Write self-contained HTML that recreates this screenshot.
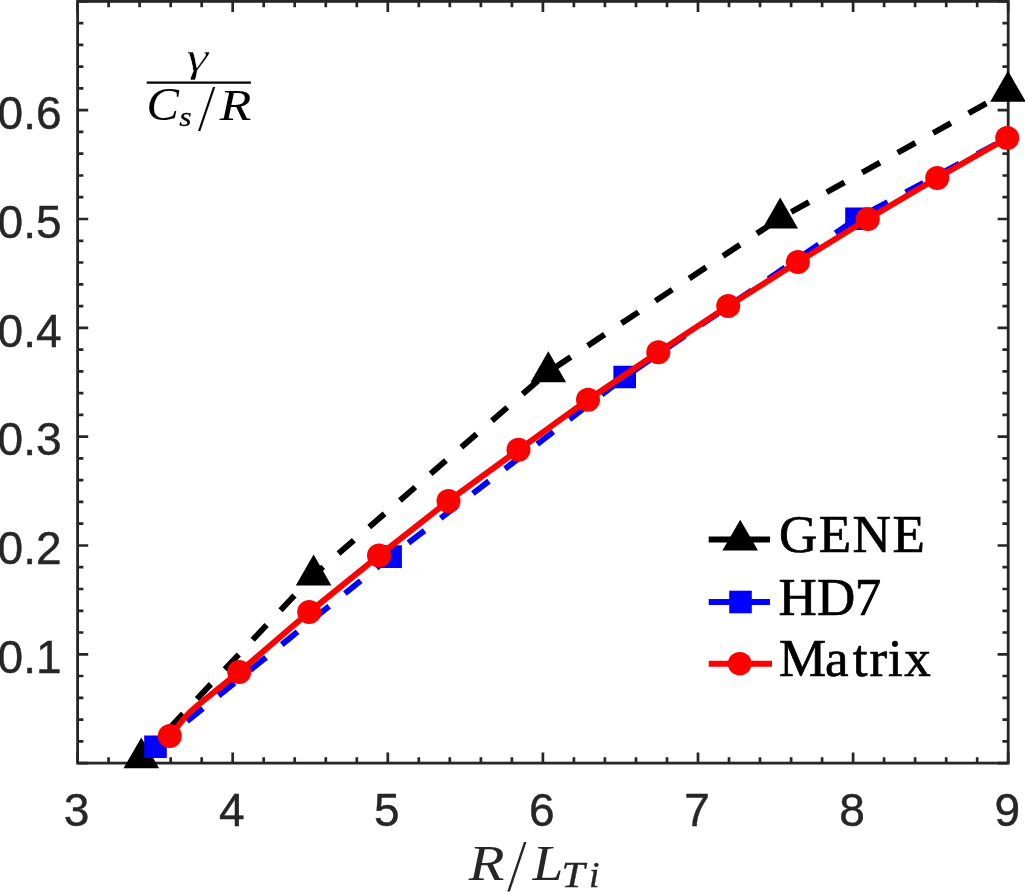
<!DOCTYPE html>
<html><head><meta charset="utf-8"><title>Growth rate</title>
<style>html,body{margin:0;padding:0;background:#fff;}svg{display:block;}
.tk{font-family:"Liberation Sans",sans-serif;font-size:46px;fill:#262626;stroke:#262626;stroke-width:0.45px;}
.rm{font-family:"Liberation Serif",serif;}
.it{font-family:"Liberation Serif",serif;font-style:italic;}
</style></head><body>
<svg width="1025" height="892" viewBox="0 0 1025 892">
<rect width="1025" height="892" fill="#fff"/>
<g stroke="#262626" stroke-width="2.7" fill="none">
<path d="M77.6 763.1v-10.6M77.6 1.4v10.6M108.6 763.1v-5.8M108.6 1.4v5.8M139.6 763.1v-5.8M139.6 1.4v5.8M170.7 763.1v-5.8M170.7 1.4v5.8M201.7 763.1v-5.8M201.7 1.4v5.8M232.7 763.1v-10.6M232.7 1.4v10.6M263.7 763.1v-5.8M263.7 1.4v5.8M294.7 763.1v-5.8M294.7 1.4v5.8M325.8 763.1v-5.8M325.8 1.4v5.8M356.8 763.1v-5.8M356.8 1.4v5.8M387.8 763.1v-10.6M387.8 1.4v10.6M418.8 763.1v-5.8M418.8 1.4v5.8M449.8 763.1v-5.8M449.8 1.4v5.8M480.9 763.1v-5.8M480.9 1.4v5.8M511.9 763.1v-5.8M511.9 1.4v5.8M542.9 763.1v-10.6M542.9 1.4v10.6M573.9 763.1v-5.8M573.9 1.4v5.8M604.9 763.1v-5.8M604.9 1.4v5.8M636.0 763.1v-5.8M636.0 1.4v5.8M667.0 763.1v-5.8M667.0 1.4v5.8M698.0 763.1v-10.6M698.0 1.4v10.6M729.0 763.1v-5.8M729.0 1.4v5.8M760.0 763.1v-5.8M760.0 1.4v5.8M791.1 763.1v-5.8M791.1 1.4v5.8M822.1 763.1v-5.8M822.1 1.4v5.8M853.1 763.1v-10.6M853.1 1.4v10.6M884.1 763.1v-5.8M884.1 1.4v5.8M915.1 763.1v-5.8M915.1 1.4v5.8M946.2 763.1v-5.8M946.2 1.4v5.8M977.2 763.1v-5.8M977.2 1.4v5.8M1008.2 763.1v-10.6M1008.2 1.4v10.6M77.6 763.1h10.6M1008.2 763.1h-10.6M77.6 741.3h5.8M1008.2 741.3h-5.8M77.6 719.6h5.8M1008.2 719.6h-5.8M77.6 697.8h5.8M1008.2 697.8h-5.8M77.6 676.0h5.8M1008.2 676.0h-5.8M77.6 654.3h10.6M1008.2 654.3h-10.6M77.6 632.5h5.8M1008.2 632.5h-5.8M77.6 610.8h5.8M1008.2 610.8h-5.8M77.6 589.0h5.8M1008.2 589.0h-5.8M77.6 567.2h5.8M1008.2 567.2h-5.8M77.6 545.5h10.6M1008.2 545.5h-10.6M77.6 523.7h5.8M1008.2 523.7h-5.8M77.6 501.9h5.8M1008.2 501.9h-5.8M77.6 480.2h5.8M1008.2 480.2h-5.8M77.6 458.4h5.8M1008.2 458.4h-5.8M77.6 436.6h10.6M1008.2 436.6h-10.6M77.6 414.9h5.8M1008.2 414.9h-5.8M77.6 393.1h5.8M1008.2 393.1h-5.8M77.6 371.3h5.8M1008.2 371.3h-5.8M77.6 349.6h5.8M1008.2 349.6h-5.8M77.6 327.8h10.6M1008.2 327.8h-10.6M77.6 306.1h5.8M1008.2 306.1h-5.8M77.6 284.3h5.8M1008.2 284.3h-5.8M77.6 262.5h5.8M1008.2 262.5h-5.8M77.6 240.8h5.8M1008.2 240.8h-5.8M77.6 219.0h10.6M1008.2 219.0h-10.6M77.6 197.2h5.8M1008.2 197.2h-5.8M77.6 175.5h5.8M1008.2 175.5h-5.8M77.6 153.7h5.8M1008.2 153.7h-5.8M77.6 131.9h5.8M1008.2 131.9h-5.8M77.6 110.2h10.6M1008.2 110.2h-10.6M77.6 88.4h5.8M1008.2 88.4h-5.8M77.6 66.7h5.8M1008.2 66.7h-5.8M77.6 44.9h5.8M1008.2 44.9h-5.8M77.6 23.1h5.8M1008.2 23.1h-5.8M77.6 1.4h10.6M1008.2 1.4h-10.6"/>
<rect x="77.6" y="1.4" width="930.6" height="761.7" stroke-width="2.8"/>
</g>
<g class="tk" text-anchor="middle">
<text x="76.6" y="825.6">3</text><text x="231.7" y="825.6">4</text><text x="386.8" y="825.6">5</text><text x="541.9" y="825.6">6</text><text x="697.0" y="825.6">7</text><text x="852.1" y="825.6">8</text><text x="1007.2" y="825.6">9</text>
</g>
<g class="tk" text-anchor="end">
<text x="61.5" y="673.1">0.1</text><text x="61.5" y="564.3">0.2</text><text x="61.5" y="455.4">0.3</text><text x="61.5" y="346.6">0.4</text><text x="61.5" y="237.8">0.5</text><text x="61.5" y="129.0">0.6</text>
</g>
<polyline points="141.3,758.0 313.6,575.2 548.3,371.9 780.2,218.1 1008.0,91.4" fill="none" stroke="#000" stroke-width="5.9" stroke-dasharray="20.3 20.3" stroke-dashoffset="0"/>
<path fill="#000" d="M141.3 737.4L159.1 768.3L123.5 768.3ZM313.6 554.6L331.4 585.5L295.8 585.5ZM548.3 351.3L566.1 382.2L530.5 382.2ZM780.2 197.5L798.0 228.4L762.4 228.4ZM1008.0 70.8L1025.8 101.7L990.2 101.7Z"/>
<polyline points="155.5,746.7 390.6,556.6 624.7,377.0 856.5,218.7 1007.2,138.0" fill="none" stroke="#0000ff" stroke-width="5.9" stroke-dasharray="20.3 20.3"/>
<path fill="#0000ff" d="M144.2 735.4h22.6v22.6h-22.6zM379.3 545.3h22.6v22.6h-22.6zM613.4 365.7h22.6v22.6h-22.6zM845.2 207.4h22.6v22.6h-22.6z"/>
<path d="M169.8 736.0L184.5 718Q190 711.3 196.5 706.2L239.2 671.9L309.2 612.1L379.0 555.6L448.5 500.9L518.5 449.8L588.0 399.7L658.3 352.2L728.2 305.9L797.9 262.1L867.8 219.0L937.2 177.9L1007.2 138.0" fill="none" stroke="#ff0000" stroke-width="5.9" stroke-linejoin="round"/>
<g fill="#ff0000"><circle cx="169.8" cy="736.0" r="12"/><circle cx="239.2" cy="671.9" r="12"/><circle cx="309.2" cy="612.1" r="12"/><circle cx="379.0" cy="555.6" r="12"/><circle cx="448.5" cy="500.9" r="12"/><circle cx="518.5" cy="449.8" r="12"/><circle cx="588.0" cy="399.7" r="12"/><circle cx="658.3" cy="352.2" r="12"/><circle cx="728.2" cy="305.9" r="12"/><circle cx="797.9" cy="262.1" r="12"/><circle cx="867.8" cy="219.0" r="12"/><circle cx="937.2" cy="177.9" r="12"/><circle cx="1007.2" cy="138.0" r="12"/></g>
<g stroke-width="5.9" fill="none"><path stroke="#000" d="M708.7 539.5H770"/><path stroke="#0000ff" d="M708.7 602H770"/><path stroke="#ff0000" d="M708.7 663.7H772"/></g>
<path fill="#000" d="M740.2 519.7L758.0 550.6L722.4 550.6Z"/>
<rect x="729.2" y="590.7" width="22.6" height="22.6" fill="#0000ff"/>
<circle cx="739.7" cy="663.7" r="11.8" fill="#ff0000"/>
<text class="rm" font-size="53" x="779.0 818.7 852.6 892.4" y="552.3" stroke="#000" stroke-width="0.7">GENE</text>
<text class="rm" font-size="53" x="778.5 817.0 854.8" y="614.8" stroke="#000" stroke-width="0.7">HD7</text>
<text class="rm" font-size="53" x="778.9 824.9 852.8 869.6 887.9 904.2" y="676.1" stroke="#000" stroke-width="0.7">Matrix</text>
<text class="it" font-size="100" fill="#262626" transform="matrix(0.5854 0 0 0.5025 468.71 879.50)">R</text>
<text class="it" font-size="100" fill="#262626" transform="matrix(0.5533 0 0 0.5025 532.45 879.50)">L</text>
<text class="it" font-size="100" fill="#262626" transform="matrix(0.4165 0 0 0.3558 561.57 886.50)" stroke="#262626" stroke-width="1">T</text>
<text class="it" font-size="100" fill="#262626" transform="matrix(0.3752 0 0 0.3504 589.01 886.60)" stroke="#262626" stroke-width="1">i</text>
<text class="it" font-size="100" fill="#262626" transform="matrix(0.4801 0 0 0.7325 509.60 890.68)">/</text>
<text class="it" font-size="100" fill="#000" transform="matrix(0.5528 0 0 0.4153 186.50 70.66)" stroke="#fff" stroke-width="1.2">γ</text>
<path d="M146.7 82.6H250.9" stroke="#000" stroke-width="2.4" fill="none"/>
<text class="it" font-size="100" fill="#000" transform="matrix(0.4866 0 0 0.4692 146.59 120.16)">C</text>
<text class="it" font-size="100" fill="#000" transform="matrix(0.3173 0 0 0.2828 179.21 126.22)" stroke="#000" stroke-width="1">s</text>
<text class="it" font-size="100" fill="#000" transform="matrix(0.5170 0 0 0.4536 219.78 120.20)">R</text>
<text class="it" font-size="100" fill="#000" transform="matrix(0.4301 0 0 0.6637 200.07 130.35)">/</text>
</svg>
</body></html>
